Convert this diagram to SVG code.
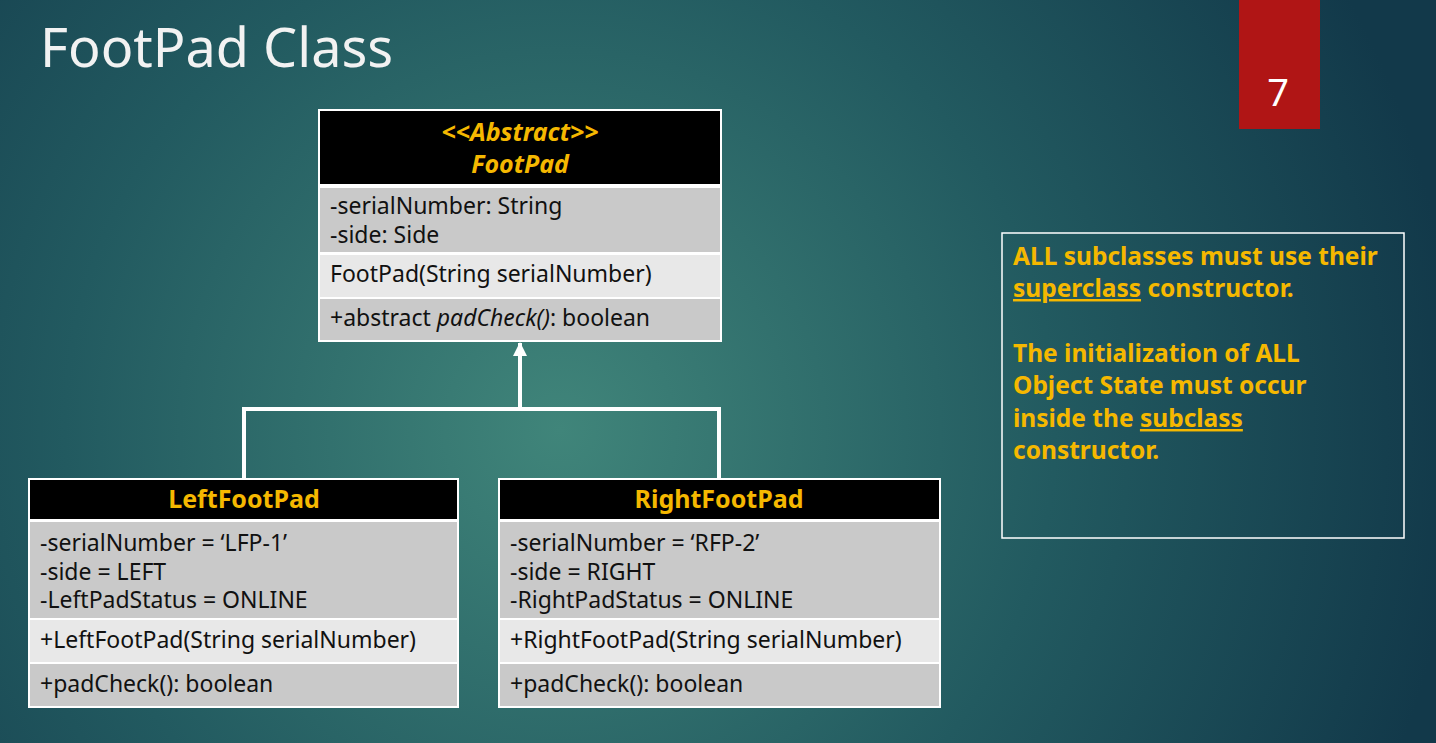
<svg xmlns="http://www.w3.org/2000/svg" width="1436" height="743" viewBox="0 0 1436 743">
<defs>
<radialGradient id="bg" cx="560" cy="430" r="900" gradientUnits="userSpaceOnUse">
<stop offset="0" stop-color="#40857a"/><stop offset="0.55" stop-color="#225a60"/><stop offset="1" stop-color="#12394a"/>
</radialGradient>
<marker id="tri" markerWidth="16" markerHeight="14" refX="13" refY="7" orient="auto" markerUnits="userSpaceOnUse">
<path d="M0,0 L14,7 L0,14 Z" fill="#fff"/>
</marker>
<style>
.hd{fill:#000;stroke:#fff;stroke-width:2}
.g1{fill:#c9c9c9;stroke:#fff;stroke-width:2}
.g2{fill:#e8e8e8;stroke:#fff;stroke-width:2}
.t{font-family:"Noto Sans","Liberation Sans",sans-serif;font-size:23px;fill:#111}
.h{font-family:"Noto Sans","Liberation Sans",sans-serif;font-size:25px;font-weight:bold;fill:#f5b800;text-anchor:middle}
.y{font-family:"Noto Sans","Liberation Sans",sans-serif;font-size:24.5px;font-weight:bold;fill:#f5b800}
.c{fill:none;stroke:#fff;stroke-width:4}
</style>
</defs>
<rect width="1436" height="743" fill="url(#bg)"/>
<text x="40" y="67" font-family="Noto Sans, Liberation Sans, sans-serif" font-size="54" fill="#f2f2f2">FootPad Class</text>
<rect x="1239" y="0" width="81" height="129" fill="#b01515"/>
<text x="1278" y="106" font-family="Noto Sans, Liberation Sans, sans-serif" font-size="38" fill="#fff" text-anchor="middle">7</text>
<g id="connectors">
<polyline class="c" points="244,479 244,409 719,409 719,479"/>
<line class="c" x1="520" y1="409" x2="520" y2="343" marker-end="url(#tri)"/>
</g>
<g id="footpad">
<rect class="hd" x="319" y="110" width="402" height="75"/>
<text class="h" x="520" y="141" font-style="italic">&lt;&lt;Abstract&gt;&gt;</text>
<text class="h" x="520" y="173" font-style="italic">FootPad</text>
<rect class="g1" x="319" y="187" width="402" height="66"/>
<text class="t" x="330" y="214">-serialNumber: String</text>
<text class="t" x="330" y="243">-side: Side</text>
<rect class="g2" x="319" y="254" width="402" height="44"/>
<text class="t" x="330" y="282">FootPad(String serialNumber)</text>
<rect class="g1" x="319" y="298" width="402" height="43"/>
<text class="t" x="330" y="326">+abstract <tspan font-style="italic">padCheck()</tspan>: boolean</text>
</g>
<g id="left">
<rect class="hd" x="29" y="479" width="429" height="41"/>
<text class="h" x="244" y="508">LeftFootPad</text>
<rect class="g1" x="29" y="521" width="429" height="98"/>
<text class="t" x="40" y="551">-serialNumber = ‘LFP-1’</text>
<text class="t" x="40" y="580">-side = LEFT</text>
<text class="t" x="40" y="608">-LeftPadStatus = ONLINE</text>
<rect class="g2" x="29" y="619" width="429" height="44"/>
<text class="t" x="40" y="648">+LeftFootPad(String serialNumber)</text>
<rect class="g1" x="29" y="663" width="429" height="44"/>
<text class="t" x="40" y="692">+padCheck(): boolean</text>
</g>
<g id="right">
<rect class="hd" x="499" y="479" width="441" height="41"/>
<text class="h" x="719" y="508">RightFootPad</text>
<rect class="g1" x="499" y="521" width="441" height="98"/>
<text class="t" x="510" y="551">-serialNumber = ‘RFP-2’</text>
<text class="t" x="510" y="580">-side = RIGHT</text>
<text class="t" x="510" y="608">-RightPadStatus = ONLINE</text>
<rect class="g2" x="499" y="619" width="441" height="44"/>
<text class="t" x="510" y="648">+RightFootPad(String serialNumber)</text>
<rect class="g1" x="499" y="663" width="441" height="44"/>
<text class="t" x="510" y="692">+padCheck(): boolean</text>
</g>
<g id="note">
<rect x="1002" y="233" width="402" height="305" fill="none" stroke="#fff" stroke-width="1.5"/>
<text class="y" x="1013" y="265">ALL subclasses must use their</text>
<text class="y" x="1013" y="297"><tspan text-decoration="underline">superclass</tspan> constructor.</text>
<text class="y" x="1013" y="362">The initialization of ALL</text>
<text class="y" x="1013" y="394">Object State must occur</text>
<text class="y" x="1013" y="427">inside the <tspan text-decoration="underline">subclass</tspan></text>
<text class="y" x="1013" y="459">constructor.</text>
</g>
</svg>
